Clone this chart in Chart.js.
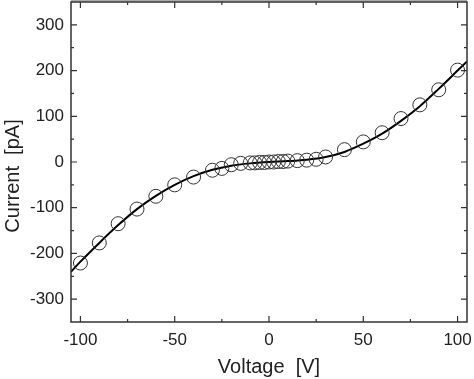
<!DOCTYPE html>
<html><head><meta charset="utf-8">
<script src="https://cdn.jsdelivr.net/npm/chart.js@4/dist/chart.umd.min.js"></script>
<style>html,body{margin:0;padding:0;background:#fff}#w{width:474px;height:379px}</style>
</head><body><div id="w"><canvas id="c" width="474" height="379"></canvas></div>
<script>
const voltage = [-100,-90,-80,-70,-60,-50,-40,-30,-25,-20,-15,-10,-7.5,-5,-2.5,0,2.5,5,7.5,10,15,20,25,30,40,50,60,70,80,90,100];
const current = [-221,-177,-135,-103,-75,-50,-33,-18,-14,-6,-3,-2,-2,-1,-1,0,0,1,1,2,3,4,6,11,27,44,64,95,125,158,201];
const fitVoltage = [-105,-100,-90,-80,-70,-60,-50,-40,-30,-20,-10,0,10,20,30,40,50,60,70,80,90,100,105];
const fitCurrent = [-240,-218,-177,-138,-103,-74,-50,-31,-17,-8,-3,0,2,5,11,22,40,62,90,122,160,200,220];
const xTicks = [-100,-50,0,50,100];
const xMinor = [-75,-25,25,75];
const yTicks = [-300,-200,-100,0,100,200,300];
const yMinor = [-250,-150,-50,50,150,250];
const xTitle = 'Voltage  [V]';
const yTitle = 'Current  [pA]';

const FONT = '"Liberation Sans", Arial, sans-serif';

const framePlugin = {
  id: 'frame',
  afterDatasetsDraw(chart) {
    const {ctx, chartArea: a, scales: {x, y}} = chart;
    ctx.save();
    ctx.fillStyle = '#aaa';
    ctx.fillRect(a.left, 0, a.right - a.left, 1.5);
    ctx.strokeStyle = '#333';
    ctx.lineWidth = 1.5;
    ctx.strokeRect(a.left, a.top, a.right - a.left, a.bottom - a.top);
    ctx.lineWidth = 1.2;
    ctx.beginPath();
    const tx = (vals, len) => vals.forEach(v => {
      const p = x.getPixelForValue(v);
      ctx.moveTo(p, a.bottom); ctx.lineTo(p, a.bottom - len);
      ctx.moveTo(p, a.top); ctx.lineTo(p, a.top + len);
    });
    const ty = (vals, len) => vals.forEach(v => {
      const p = y.getPixelForValue(v);
      ctx.moveTo(a.left, p); ctx.lineTo(a.left + len, p);
      ctx.moveTo(a.right, p); ctx.lineTo(a.right - len, p);
    });
    tx(xTicks, 6); tx(xMinor, 3); ty(yTicks, 6); ty(yMinor, 3);
    ctx.stroke();
    // titles
    ctx.fillStyle = '#222';
    ctx.font = '20px ' + FONT;
    ctx.textAlign = 'center';
    ctx.textBaseline = 'middle';
    ctx.fillText(xTitle, (a.left + a.right) / 2, 367);
    ctx.translate(13, 176);
    ctx.rotate(-Math.PI / 2);
    ctx.fillText(yTitle, 0, 0);
    ctx.restore();
  }
};

new Chart(document.getElementById('c'), {
  type: 'scatter',
  data: {
    datasets: [
      {
        label: 'fit',
        type: 'line',
        data: fitVoltage.map((v, i) => ({x: v, y: fitCurrent[i]})),
        borderColor: '#000',
        borderWidth: 2,
        pointRadius: 0,
        cubicInterpolationMode: 'monotone',
        fill: false,
        order: 2
      },
      {
        label: 'data',
        data: voltage.map((v, i) => ({x: v, y: current[i]})),
        pointStyle: 'circle',
        pointRadius: 7,
        pointBorderWidth: 1,
        pointBorderColor: '#333',
        pointBackgroundColor: 'rgba(0,0,0,0)',
        order: 1
      }
    ]
  },
  options: {
    responsive: false,
    animation: false,
    devicePixelRatio: 1,
    layout: {autoPadding: false, padding: {top: 2, right: 7, left: 0, bottom: 0}},
    plugins: {legend: {display: false}, tooltip: {enabled: false}},
    scales: {
      x: {
        type: 'linear', min: -105, max: 105,
        grid: {display: false, drawTicks: false},
        border: {display: false},
        afterBuildTicks: s => { s.ticks = xTicks.map(v => ({value: v})); },
        afterFit: s => { s.height = 57; s.paddingLeft = 0; s.paddingRight = 0; },
        ticks: {font: {size: 17, family: FONT}, color: '#222', padding: 8, maxRotation: 0}
      },
      y: {
        type: 'linear', min: -350, max: 350,
        grid: {display: false, drawTicks: false},
        border: {display: false},
        afterBuildTicks: s => { s.ticks = yTicks.map(v => ({value: v})); },
        afterFit: s => { s.width = 71; s.paddingTop = 0; s.paddingBottom = 0; },
        ticks: {font: {size: 17, family: FONT}, color: '#222', padding: 7}
      }
    }
  },
  plugins: [framePlugin]
});
</script>
</body></html>
